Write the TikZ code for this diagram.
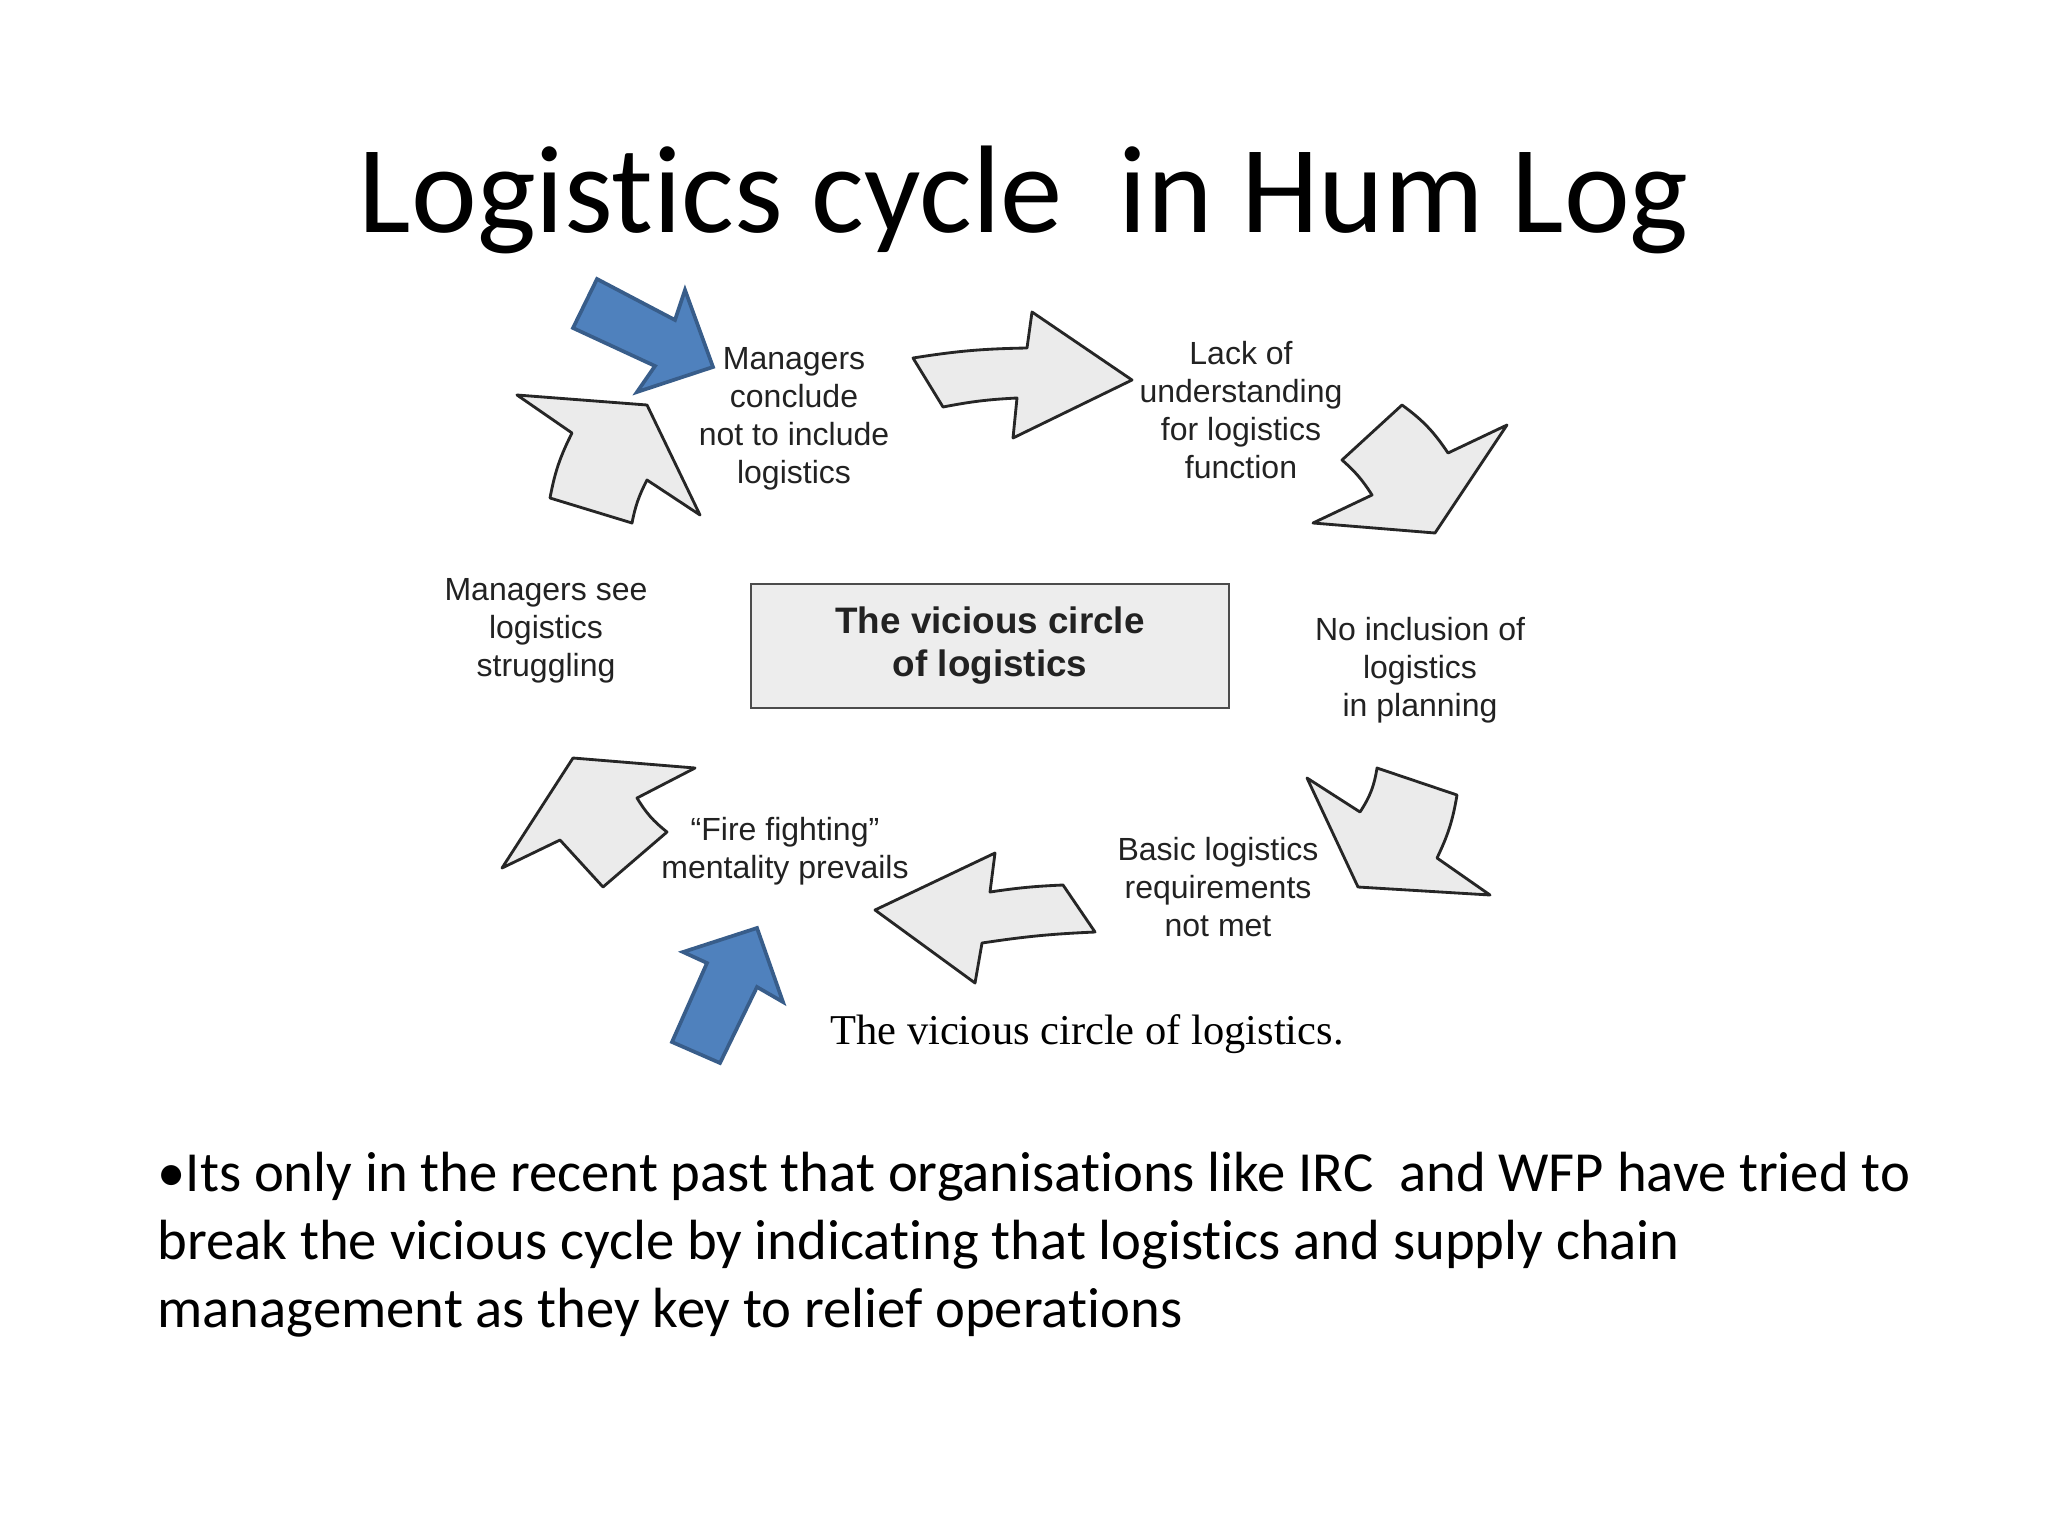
\documentclass[tikz,border=0pt]{standalone}
\usepackage{fontspec}
\setmainfont[Ligatures=NoCommon]{Carlito}
\newfontfamily\diagfont{Liberation Sans}
\newfontfamily\capfont{Liberation Serif}
\definecolor{arrowgrey}{HTML}{EBEBEB}
\definecolor{blockblue}{HTML}{4F81BD}
\definecolor{blockedge}{HTML}{385D8A}
\definecolor{boxgrey}{HTML}{EDEDED}
\definecolor{labelgrey}{HTML}{222222}

\begin{document}
\begin{tikzpicture}[x=0.012402cm, y=-0.012402cm,
        title/.style={anchor=base, inner sep=0pt, font=\fontsize{44}{52.8}\selectfont},
        stage/.style={align=center, inner sep=0pt, text=labelgrey, font=\diagfont\fontsize{11.3}{13.4}\selectfont},
        centrebox/.style={draw=black!70, line width=1pt, fill=boxgrey, minimum width=5.93cm, minimum height=1.54cm, align=center, text=labelgrey, font=\diagfont\bfseries\fontsize{13}{15.2}\selectfont},
        caption/.style={inner sep=0pt, font=\capfont\fontsize{15}{18}\selectfont},
        bullet/.style={anchor=base west, inner sep=0pt, font=\fontsize{20}{24}\selectfont},
        cyclearrow/.style={draw=black!85, line width=1pt, fill=arrowgrey, line join=round},
        hintarrow/.style={draw=blockedge, line width=1.3pt, fill=blockblue, line join=miter}
      ]
      \useasboundingbox[fill=white] (0,0) rectangle (2048,1536);

      % Title
      \node[title] (title) at (1024,232) {Logistics cycle\ \ in Hum Log};

      % Centre box
      \node[centrebox] (centre) at (990,646) {The vicious circle\\of logistics};

      % Stages of the circle
      \node[stage] (conclude) at (794,419) {Managers\\conclude\\not to include\\logistics};
      \node[stage] (lack) at (1241,410) {Lack of\\understanding\\for logistics\\function};
      \node[stage] (noplan) at (1420,670) {No inclusion of\\logistics\\in planning};
      \node[stage] (basic) at (1218,887) {Basic logistics\\requirements\\not met};
      \node[stage] (fire) at (785,851) {“Fire fighting”\\mentality prevails};
      \node[stage] (struggle) at (546,631) {Managers see\\logistics\\struggling};

      % Grey cycle arrows
      \draw[cyclearrow] (913,358) to[bend left=4] (1027,348) -- (1032,312) -- (1132,380) -- (1013,438)
        -- (1017,398) to[bend right=4] (943,407) -- cycle;
      \draw[cyclearrow] (1402,405) to[bend left=10] (1448,453) -- (1507,425) -- (1435,533) -- (1313,523)
        -- (1372,495) to[bend right=8] (1342,460) -- cycle;
      \draw[cyclearrow] (1307,778) -- (1360,812) to[bend right=12] (1377,768) -- (1457,795)
        to[bend left=8] (1437,858) -- (1490,895) -- (1358,887) -- cycle;
      \draw[cyclearrow] (875,910) -- (995,853) -- (990,892) to[bend left=3] (1063,885) -- (1095,932)
        to[bend right=3] (982,943) -- (975,983) -- cycle;
      \draw[cyclearrow] (573,758) -- (695,768) -- (637,798) to[bend right=10] (667,832) -- (603,887)
        -- (560,840) -- (502,868) -- cycle;
      \draw[cyclearrow] (517,395) -- (647,405) -- (700,515) -- (647,480) to[bend right=8] (632,523)
        -- (550,498) to[bend left=8] (572,433) -- cycle;

      % Blue pointers
      \draw[hintarrow] (573,328) -- (597,279) -- (675,320) -- (685,290) -- (713,367) -- (637,392) -- (655,366) -- cycle;
      \draw[hintarrow] (672,1042) -- (707,963) -- (683,952) -- (757,928) -- (783,1002) -- (757,987) -- (720,1063) -- cycle;

      % Caption
      \node[caption] (cap) at (1087,1034) {The vicious circle of logistics.};

      % Bullet text
      \node[bullet] (lineA) at (157,1191) {\textbullet Its only in the recent past that organisations like IRC\ \ and WFP have tried to};
      \node[bullet] (lineB) at (157,1259) {break the vicious cycle by indicating that logistics and supply chain};
      \node[bullet] (lineC) at (157,1327) {management as they key to relief operations};

    \end{tikzpicture}
\end{document}
